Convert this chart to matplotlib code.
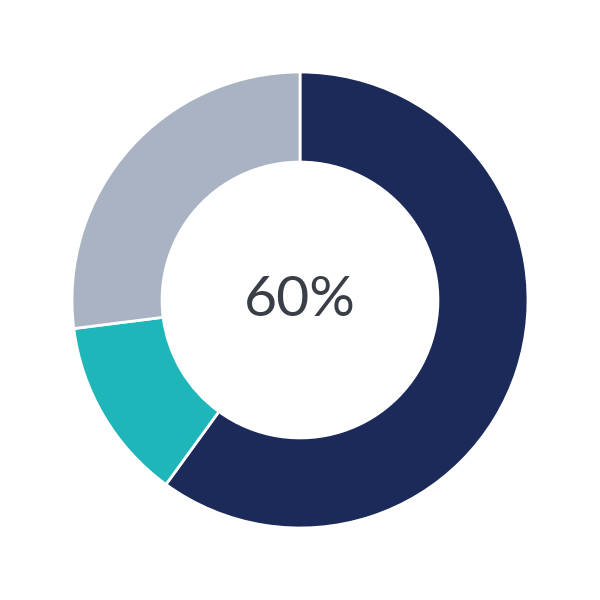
import matplotlib.pyplot as plt

# share of each segment, clockwise from the top
labels = ["Main", "Teal", "Grey"]
shares = [60, 13, 27]
colors = ["#1c2a5a", "#1eb6b8", "#a9b3c3"]
center_text = "60%"

fig = plt.figure(figsize=(6, 6), dpi=100)
ax = fig.add_axes([0, 0, 1, 1])

outer = 228 / 300
ax.pie(shares, colors=colors, startangle=90, counterclock=False,
       radius=outer,
       wedgeprops=dict(width=outer * 0.395, edgecolor="white", linewidth=2))

ax.text(0, 0, center_text, ha="center", va="center", fontsize=41,
        family=["Lato", "DejaVu Sans"], color="#3a3f47")

ax.set_xlim(-1, 1)
ax.set_ylim(-1, 1)
ax.set_aspect("equal")
ax.axis("off")

fig.savefig("out.png", dpi=100, facecolor="white")
